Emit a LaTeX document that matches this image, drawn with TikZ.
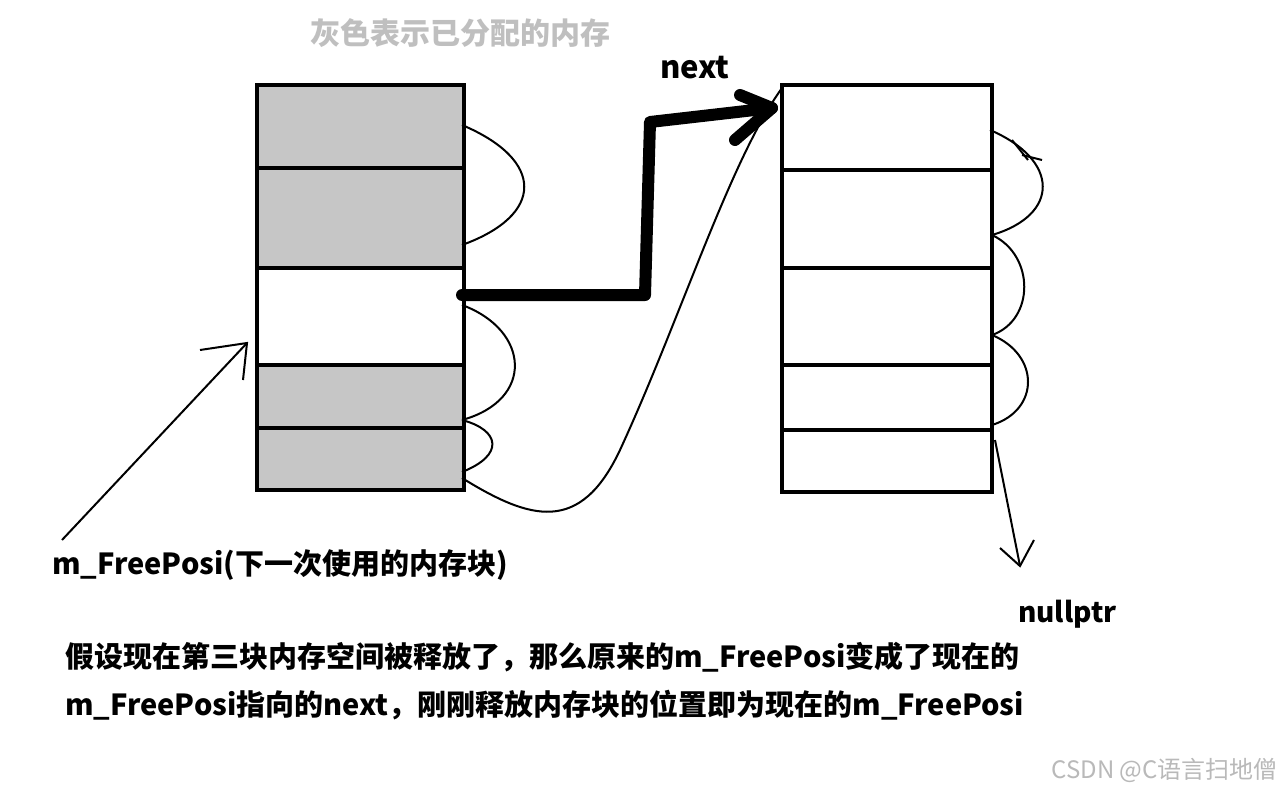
\documentclass[tikz,border=0pt]{standalone}
\usepackage{fontspec}
\setmainfont{Noto Sans CJK SC}
\usetikzlibrary{arrows.meta}
\begin{document}
\begin{tikzpicture}[x=1pt,y=-1pt,
  cell/.style={draw=black,line width=4pt},
  wire/.style={line width=2pt,black},
  lbl/.style={font=\bfseries\fontsize{29}{33}\selectfont,anchor=west,inner sep=0pt}]
\useasboundingbox[fill=white] (0,0) rectangle (1282,792);
% left block
\fill[gray!45] (257,85) rectangle (464,268);
\fill[gray!45] (257,365) rectangle (464,490);
\draw[cell] (257,85) rectangle (464,490);
\foreach \y in {168,268,365,428} \draw[cell] (257,\y) -- (464,\y);
% right block
\draw[cell] (782,85) rectangle (992,492);
\foreach \y in {170,268,365,430} \draw[cell] (782,\y) -- (992,\y);
% left curves
\draw[wire] (462,125) .. controls (545,160) and (545,215) .. (462,245);
\draw[wire] (462,305) .. controls (530,330) and (535,400) .. (462,420);
\draw[wire] (462,420) .. controls (500,430) and (505,455) .. (462,472);
\draw[wire] (462,478) .. controls (530,520) and (580,535) .. (620,450) .. controls (680,320) and (730,160) .. (782,88);
% right curves
\draw[wire] (990,130) .. controls (1060,160) and (1060,215) .. (992,235);
\draw[wire] (992,235) .. controls (1035,255) and (1035,320) .. (992,335);
\draw[wire] (992,335) .. controls (1040,355) and (1040,410) .. (992,425);
\draw[wire] (1012,140) -- (1028,160);
\draw[wire] (1022,155) -- (1042,160);
\coordinate (rs) at (995,440);
\coordinate (rt) at (1020,566);
\draw[wire] (rs) -- (rt);
\draw[wire] (1000,548) -- (rt) -- (1034,540);
% thick arrow
\coordinate (ts) at (462,295);
\coordinate (te) at (772,108);
\draw[line width=12pt,line cap=round,line join=round] (ts) -- (645,295) -- (650,122) -- (te);
\draw[line width=12pt,line cap=round,line join=round] (740,95) -- (te) -- (735,140);
% thin arrow
\coordinate (as) at (62,540);
\coordinate (ae) at (247,343);
\draw[wire] (as) -- (ae);
\draw[wire] (200,350) -- (ae) -- (243,380);
% texts
\node[lbl,anchor=center,text=gray!50,font=\bfseries\fontsize{30}{34}\selectfont] (t1) at (460,33) {灰色表示已分配的内存};
\node[lbl,anchor=center,font=\bfseries\fontsize{31}{34}\selectfont] (t2) at (695,68) {next};
\node[lbl] (t3) at (52,565) {m\_FreePosi(下一次使用的内存块)};
\node[lbl,font=\bfseries\fontsize{28}{32}\selectfont] (t4) at (1018,614) {nullptr};
\node[lbl] (t5) at (65,657) {假设现在第三块内存空间被释放了，那么原来的m\_FreePosi变成了现在的};
\node[lbl] (t6) at (65,705) {m\_FreePosi指向的next，刚刚释放内存块的位置即为现在的m\_FreePosi};
\node[anchor=east,inner sep=0pt,text=gray!55,font=\fontsize{24}{27}\selectfont] (wm) at (1278,770) {CSDN @C语言扫地僧};
\end{tikzpicture}
\end{document}
